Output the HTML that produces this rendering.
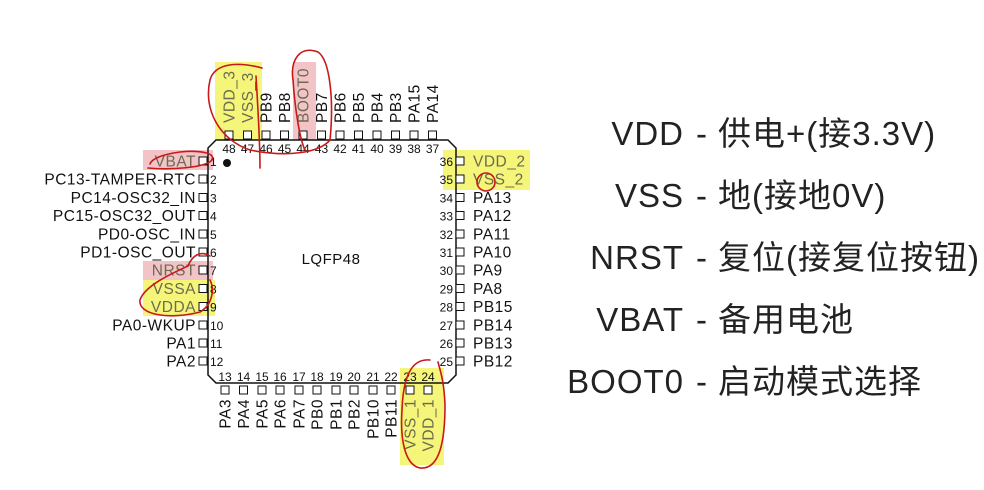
<!DOCTYPE html>
<html><head><meta charset="utf-8"><style>
html,body{margin:0;padding:0;background:#fff;width:984px;height:490px;overflow:hidden}
svg{display:block}
.p{font-family:"Liberation Sans",sans-serif;font-size:15.5px;letter-spacing:0.5px;fill:#111}
.n{font-family:"Liberation Sans",sans-serif;font-size:12px;fill:#111}
.h{fill:#6b6b50}
.big{font-family:"Liberation Sans","Noto Sans CJK SC",sans-serif;font-size:33px;letter-spacing:1px;fill:#222}
</style></head><body>
<svg width="984" height="490" viewBox="0 0 984 490">
<rect x="215" y="62" width="47" height="78" fill="#f5f57a"/>
<rect x="293" y="62" width="23" height="78" fill="#f2c4c8"/>
<rect x="143" y="150" width="70" height="20" fill="#f2c4c8"/>
<rect x="443" y="150" width="87" height="40" fill="#f5f57a"/>
<rect x="143" y="261" width="70" height="19" fill="#f2c4c8"/>
<rect x="143" y="280" width="72" height="36" fill="#f5f57a"/>
<rect x="400" y="368" width="44" height="97" fill="#f5f57a"/>
<polygon points="216,140 448,140 456,148 456,375 448,383 216,383 208,375 208,148" fill="none" stroke="#111" stroke-width="1.5"/>
<circle cx="227" cy="163" r="4" fill="#111"/>
<text x="331" y="264" class="p" text-anchor="middle" style="font-size:15px">LQFP48</text>
<g fill="#fff" stroke="#111" stroke-width="1">
<rect x="225" y="131" width="8" height="8"/><rect x="243.5" y="131" width="8" height="8"/><rect x="262" y="131" width="8" height="8"/><rect x="280.5" y="131" width="8" height="8"/><rect x="299" y="131" width="8" height="8"/><rect x="317.5" y="131" width="8" height="8"/><rect x="336" y="131" width="8" height="8"/><rect x="354.5" y="131" width="8" height="8"/><rect x="373" y="131" width="8" height="8"/><rect x="391.5" y="131" width="8" height="8"/><rect x="410" y="131" width="8" height="8"/><rect x="428.5" y="131" width="8" height="8"/>
<rect x="199" y="157" width="8" height="8"/><rect x="199" y="175" width="8" height="8"/><rect x="199" y="193.5" width="8" height="8"/><rect x="199" y="211.5" width="8" height="8"/><rect x="199" y="230" width="8" height="8"/><rect x="199" y="248" width="8" height="8"/><rect x="199" y="266" width="8" height="8"/><rect x="199" y="284.5" width="8" height="8"/><rect x="199" y="302.5" width="8" height="8"/><rect x="199" y="321" width="8" height="8"/><rect x="199" y="339" width="8" height="8"/><rect x="199" y="357" width="8" height="8"/>
<rect x="456" y="157" width="8" height="8"/><rect x="456" y="175" width="8" height="8"/><rect x="456" y="193.5" width="8" height="8"/><rect x="456" y="211.5" width="8" height="8"/><rect x="456" y="230" width="8" height="8"/><rect x="456" y="248" width="8" height="8"/><rect x="456" y="266" width="8" height="8"/><rect x="456" y="284.5" width="8" height="8"/><rect x="456" y="302.5" width="8" height="8"/><rect x="456" y="321" width="8" height="8"/><rect x="456" y="339" width="8" height="8"/><rect x="456" y="357" width="8" height="8"/>
<rect x="221" y="386" width="8" height="8"/><rect x="239.5" y="386" width="8" height="8"/><rect x="258" y="386" width="8" height="8"/><rect x="276" y="386" width="8" height="8"/><rect x="295" y="386" width="8" height="8"/><rect x="313" y="386" width="8" height="8"/><rect x="332" y="386" width="8" height="8"/><rect x="350" y="386" width="8" height="8"/><rect x="369" y="386" width="8" height="8"/><rect x="387" y="386" width="8" height="8"/><rect x="406" y="386" width="8" height="8"/><rect x="424" y="386" width="8" height="8"/>
</g>
<g class="n" text-anchor="middle">
<text x="229" y="153">48</text><text x="247.5" y="153">47</text><text x="266" y="153">46</text><text x="284.5" y="153">45</text><text x="303" y="153">44</text><text x="321.5" y="153">43</text><text x="340" y="153">42</text><text x="358.5" y="153">41</text><text x="377" y="153">40</text><text x="395.5" y="153">39</text><text x="414" y="153">38</text><text x="432.5" y="153">37</text>
</g>
<g class="p">
<text class="p h" transform="translate(234.5,123) rotate(-90)">VDD_3</text>
<text class="p h" transform="translate(253,123) rotate(-90)">VSS_3</text>
<text transform="translate(271.5,123) rotate(-90)">PB9</text>
<text transform="translate(290,123) rotate(-90)">PB8</text>
<text class="p h" transform="translate(308.5,123) rotate(-90)">BOOT0</text>
<text transform="translate(327,123) rotate(-90)">PB7</text>
<text transform="translate(345.5,123) rotate(-90)">PB6</text>
<text transform="translate(364,123) rotate(-90)">PB5</text>
<text transform="translate(382.5,123) rotate(-90)">PB4</text>
<text transform="translate(401,123) rotate(-90)">PB3</text>
<text transform="translate(419.5,123) rotate(-90)">PA15</text>
<text transform="translate(438,123) rotate(-90)">PA14</text>
</g>
<g class="n">
<text x="210" y="166">1</text><text x="210" y="184">2</text><text x="210" y="202.5">3</text><text x="210" y="220.5">4</text><text x="210" y="239">5</text><text x="210" y="257">6</text><text x="210" y="275">7</text><text x="210" y="293.5">8</text><text x="210" y="311.5">9</text><text x="210" y="330">10</text><text x="210" y="348">11</text><text x="210" y="366">12</text>
</g>
<g class="p" text-anchor="end">
<text x="196" y="166.5" class="p h">VBAT</text>
<text x="196" y="184.5">PC13-TAMPER-RTC</text>
<text x="196" y="203">PC14-OSC32_IN</text>
<text x="196" y="221">PC15-OSC32_OUT</text>
<text x="196" y="239.5">PD0-OSC_IN</text>
<text x="196" y="257.5">PD1-OSC_OUT</text>
<text x="196" y="275.5" class="p h">NRST</text>
<text x="196" y="294" class="p h">VSSA</text>
<text x="196" y="312" class="p h">VDDA</text>
<text x="196" y="330.5">PA0-WKUP</text>
<text x="196" y="348.5">PA1</text>
<text x="196" y="366.5">PA2</text>
</g>
<g class="n" text-anchor="end">
<text x="453" y="166">36</text><text x="453" y="184">35</text><text x="453" y="202.5">34</text><text x="453" y="220.5">33</text><text x="453" y="239">32</text><text x="453" y="257">31</text><text x="453" y="275">30</text><text x="453" y="293.5">29</text><text x="453" y="311.5">28</text><text x="453" y="330">27</text><text x="453" y="348">26</text><text x="453" y="366">25</text>
</g>
<g class="p">
<text x="473" y="166.5" class="p h">VDD_2</text>
<text x="473" y="184.5" class="p h">VSS_2</text>
<text x="473" y="203">PA13</text>
<text x="473" y="221">PA12</text>
<text x="473" y="239.5">PA11</text>
<text x="473" y="257.5">PA10</text>
<text x="473" y="275.5">PA9</text>
<text x="473" y="294">PA8</text>
<text x="473" y="312">PB15</text>
<text x="473" y="330.5">PB14</text>
<text x="473" y="348.5">PB13</text>
<text x="473" y="366.5">PB12</text>
</g>
<g class="n" text-anchor="middle">
<text x="225" y="381">13</text><text x="243.5" y="381">14</text><text x="262" y="381">15</text><text x="280" y="381">16</text><text x="299" y="381">17</text><text x="317" y="381">18</text><text x="336" y="381">19</text><text x="354" y="381">20</text><text x="373" y="381">21</text><text x="391" y="381">22</text><text x="410" y="381">23</text><text x="428" y="381">24</text>
</g>
<g class="p" text-anchor="end">
<text transform="translate(230.5,399) rotate(-90)">PA3</text>
<text transform="translate(249,399) rotate(-90)">PA4</text>
<text transform="translate(267.5,399) rotate(-90)">PA5</text>
<text transform="translate(285.5,399) rotate(-90)">PA6</text>
<text transform="translate(304.5,399) rotate(-90)">PA7</text>
<text transform="translate(322.5,399) rotate(-90)">PB0</text>
<text transform="translate(341.5,399) rotate(-90)">PB1</text>
<text transform="translate(359.5,399) rotate(-90)">PB2</text>
<text transform="translate(378.5,399) rotate(-90)">PB10</text>
<text transform="translate(396.5,399) rotate(-90)">PB11</text>
<text class="p h" transform="translate(415.5,399) rotate(-90)">VSS_1</text>
<text class="p h" transform="translate(433.5,399) rotate(-90)">VDD_1</text>
</g>
<g fill="none" stroke="#c81818" stroke-width="1.6" stroke-linecap="round">
<path d="M262,68 C240,62 215,62 210,80 C203,110 220,140 250,150 C290,158 320,152 330,140"/>
<path d="M256,76 C258,110 260,140 260,168"/>
<path d="M330,140 C334,100 330,60 318,52 C300,45 290,60 293,80 C295,110 300,140 305,150"/>
<path d="M148,168 C170,170 205,168 212,160 C216,153 200,150 180,152 C165,154 152,158 150,164"/>
<path d="M210,256 C200,250 192,256 188,266 C175,272 145,285 140,300 C138,315 170,320 200,312 C212,305 215,290 210,280"/>
<path d="M430,360 C410,358 403,380 402,410 C400,440 405,465 420,468 C440,470 445,440 445,405 C444,380 440,370 438,362"/>
<circle cx="486" cy="182" r="9"/>
</g>
<g class="big">
<text x="684" y="145" text-anchor="end">VDD</text><text x="702" y="145" text-anchor="middle">-</text><text x="718" y="145">供电+(接3.3V)</text>
<text x="684" y="207" text-anchor="end">VSS</text><text x="702" y="207" text-anchor="middle">-</text><text x="718" y="207">地(接地0V)</text>
<text x="684" y="269" text-anchor="end">NRST</text><text x="702" y="269" text-anchor="middle">-</text><text x="718" y="269">复位(接复位按钮)</text>
<text x="684" y="331" text-anchor="end">VBAT</text><text x="702" y="331" text-anchor="middle">-</text><text x="718" y="331">备用电池</text>
<text x="684" y="393" text-anchor="end">BOOT0</text><text x="702" y="393" text-anchor="middle">-</text><text x="718" y="393">启动模式选择</text>
</g>
</svg>
</body></html>
